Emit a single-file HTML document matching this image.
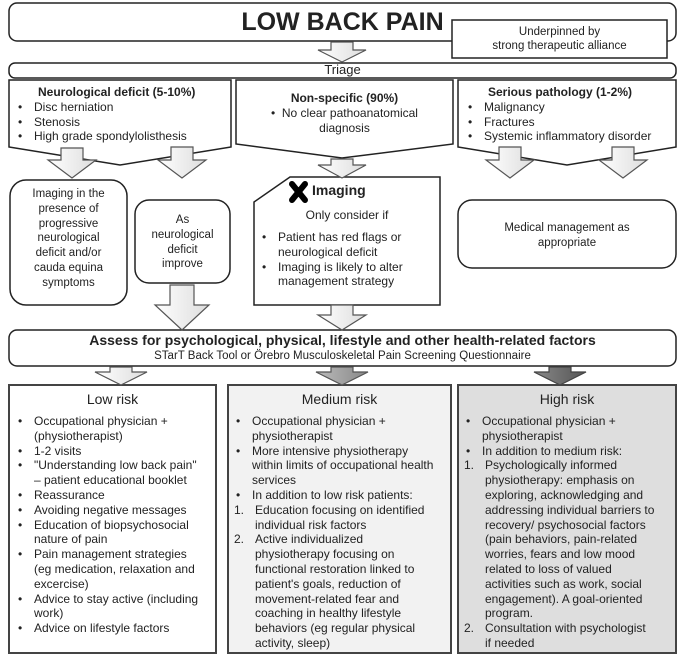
<!DOCTYPE html>
<html><head><meta charset="utf-8"><style>
body{margin:0;width:685px;height:664px;background:#fff;position:relative;overflow:hidden;font-family:"Liberation Sans",Arial,sans-serif;color:#222}
.t{position:absolute;font-size:12px;line-height:14.8px;white-space:nowrap}
.c{text-align:center}
.b{font-weight:bold}
.li{position:relative;padding-left:22px}
.li:before{content:"•";position:absolute;left:6px}
.n{position:relative;padding-left:25px}
.n span{position:absolute;left:4px}
svg{position:absolute;left:0;top:0}
</style></head><body>
<svg width="685" height="664">
<defs>
<linearGradient id="g" x1="0" x2="1"><stop offset="0" stop-color="#fff"/><stop offset="1" stop-color="#ddd"/></linearGradient>
<linearGradient id="g2" x1="0" x2="1"><stop offset="0" stop-color="#bbb"/><stop offset="1" stop-color="#888"/></linearGradient>
<linearGradient id="g3" x1="0" x2="1"><stop offset="0" stop-color="#888"/><stop offset="1" stop-color="#555"/></linearGradient>
</defs>
<g stroke="#222" stroke-width="1.5" fill="#fff">
<rect x="9" y="3" width="667" height="38" rx="8"/>
<rect x="452" y="20" width="215" height="38" fill="#fff"/>
<rect x="9" y="63" width="667" height="15" rx="6"/>
<polygon points="9,80 231,80 231,147 120,165 9,147"/>
<polygon points="236,80 453,80 453,144 342,158 236,144"/>
<polygon points="458,80 676,80 676,147 567,165 458,147"/>
<rect x="10" y="180" width="117" height="125" rx="16"/>
<rect x="135" y="200" width="95" height="83" rx="14"/>
<polygon points="290,177 440,177 440,305 254,305 254,202"/>
<rect x="458" y="200" width="218" height="68" rx="14"/>
<rect x="9" y="330" width="667" height="36" rx="8"/>
<rect x="9" y="385" width="207" height="268" stroke="#444" stroke-width="2"/>
<rect x="228" y="385" width="223" height="268" fill="#f2f2f2" stroke="#444" stroke-width="2"/>
<rect x="458" y="385" width="218" height="268" fill="#dedede" stroke="#444" stroke-width="2"/>
</g>
<g stroke="#555" stroke-width="1.2" fill="url(#g)">
<polygon points="331,42 353,42 353,50 366,50 342,62 318,50 331,50"/>
<polygon points="61,148 83,148 83,160 96,160 72,178 48,160 61,160"/>
<polygon points="171,147 193,147 193,160 206,160 182,178 158,160 171,160"/>
<polygon points="331,159 353,159 353,165 366,165 342,178 318,165 331,165"/>
<polygon points="499,147 521,147 521,160 534,160 510,178 486,160 499,160"/>
<polygon points="612,147 634,147 634,160 647,160 623,178 599,160 612,160"/>
<polygon points="170,285 194,285 194,305 209,305 182,330 155,305 170,305"/>
<polygon points="331,305 353,305 353,315 366,315 342,330 318,315 331,315"/>
<polygon points="110,367 132,367 132,372 147,372 121,385 95,372 110,372"/>
</g>
<polygon stroke="#555" stroke-width="1.2" fill="url(#g2)" points="331,367 353,367 353,372 368,372 342,385 316,372 331,372"/>
<polygon stroke="#444" stroke-width="1.2" fill="url(#g3)" points="549,367 571,367 571,372 586,372 560,385 534,372 549,372"/>
<g stroke="#000" stroke-width="6" stroke-linecap="round"><line x1="292" y1="184" x2="305" y2="200"/><line x1="305" y1="184" x2="292" y2="200"/></g>
</svg>
<div class="t b" style="left:9px;width:667px;top:7px;font-size:25px;line-height:30px;text-align:center">LOW BACK PAIN</div>
<div class="t c" style="left:452px;width:215px;top:25px;font-size:11.5px;line-height:14px">Underpinned by<br>strong therapeutic alliance</div>
<div class="t c" style="left:9px;width:667px;top:62px;font-size:13px;line-height:16px">Triage</div>
<div class="t" style="left:12px;top:85px"><div class="b" style="padding-left:26px">Neurological deficit (5-10%)</div><div class="li">Disc herniation</div><div class="li">Stenosis</div><div class="li">High grade spondylolisthesis</div></div>
<div class="t c" style="left:236px;width:217px;top:91px"><b>Non-specific (90%)</b><br>• &nbsp;No clear pathoanatomical<br>diagnosis</div>
<div class="t" style="left:462px;top:85px"><div class="b" style="padding-left:26px">Serious pathology (1-2%)</div><div class="li">Malignancy</div><div class="li">Fractures</div><div class="li">Systemic inflammatory disorder</div></div>
<div class="t c" style="left:10px;width:117px;top:187px;font-size:11.5px;line-height:14.8px">Imaging in the<br>presence of<br>progressive<br>neurological<br>deficit and/or<br>cauda equina<br>symptoms</div>
<div class="t c" style="left:135px;width:95px;top:213px;font-size:11.5px;line-height:14.8px">As<br>neurological<br>deficit<br>improve</div>
<div class="t b" style="left:312px;top:181px;font-size:14px;line-height:18px">Imaging</div>
<div class="t c" style="left:254px;width:186px;top:208px">Only consider if</div>
<div class="t" style="left:256px;top:230px"><div class="li">Patient has red flags or<br>neurological deficit</div><div class="li">Imaging is likely to alter<br>management strategy</div></div>
<div class="t c" style="left:458px;width:218px;top:221px;font-size:11.5px">Medical management as<br>appropriate</div>
<div class="t c b" style="left:9px;width:667px;top:331px;font-size:14px;line-height:18px">Assess for psychological, physical, lifestyle and other health-related factors</div>
<div class="t c" style="left:9px;width:667px;top:349px;font-size:11.5px;line-height:14px">STarT Back Tool or Örebro Musculoskeletal Pain Screening Questionnaire</div>
<div class="t c" style="left:9px;width:207px;top:390px;font-size:14px;line-height:18px">Low risk</div>
<div class="t c" style="left:228px;width:223px;top:390px;font-size:14px;line-height:18px">Medium risk</div>
<div class="t c" style="left:458px;width:218px;top:390px;font-size:14px;line-height:18px">High risk</div>
<div class="t" style="left:12px;top:414px"><div class="li">Occupational physician +<br>(physiotherapist)</div><div class="li">1-2 visits</div><div class="li">"Understanding low back pain"<br>– patient educational booklet</div><div class="li">Reassurance</div><div class="li">Avoiding negative messages</div><div class="li">Education of biopsychosocial<br>nature of pain</div><div class="li">Pain management strategies<br>(eg medication, relaxation and<br>excercise)</div><div class="li">Advice to stay active (including<br>work)</div><div class="li">Advice on lifestyle factors</div></div>
<div class="t" style="left:230px;top:414px"><div class="li">Occupational physician +<br>physiotherapist</div><div class="li">More intensive physiotherapy<br>within limits of occupational health<br>services</div><div class="li">In addition to low risk patients:</div><div class="n"><span>1.</span>Education focusing on identified<br>individual risk factors</div><div class="n"><span>2.</span>Active individualized<br>physiotherapy focusing on<br>functional restoration linked to<br>patient's goals, reduction of<br>movement-related fear and<br>coaching in healthy lifestyle<br>behaviors (eg regular physical<br>activity, sleep)</div></div>
<div class="t" style="left:460px;top:414px"><div class="li">Occupational physician +<br>physiotherapist</div><div class="li">In addition to medium risk:</div><div class="n"><span>1.</span>Psychologically informed<br>physiotherapy: emphasis on<br>exploring, acknowledging and<br>addressing individual barriers to<br>recovery/ psychosocial factors<br>(pain behaviors, pain-related<br>worries, fears and low mood<br>related to loss of valued<br>activities such as work, social<br>engagement). A goal-oriented<br>program.</div><div class="n"><span>2.</span>Consultation with psychologist<br>if needed</div></div>
</body></html>
